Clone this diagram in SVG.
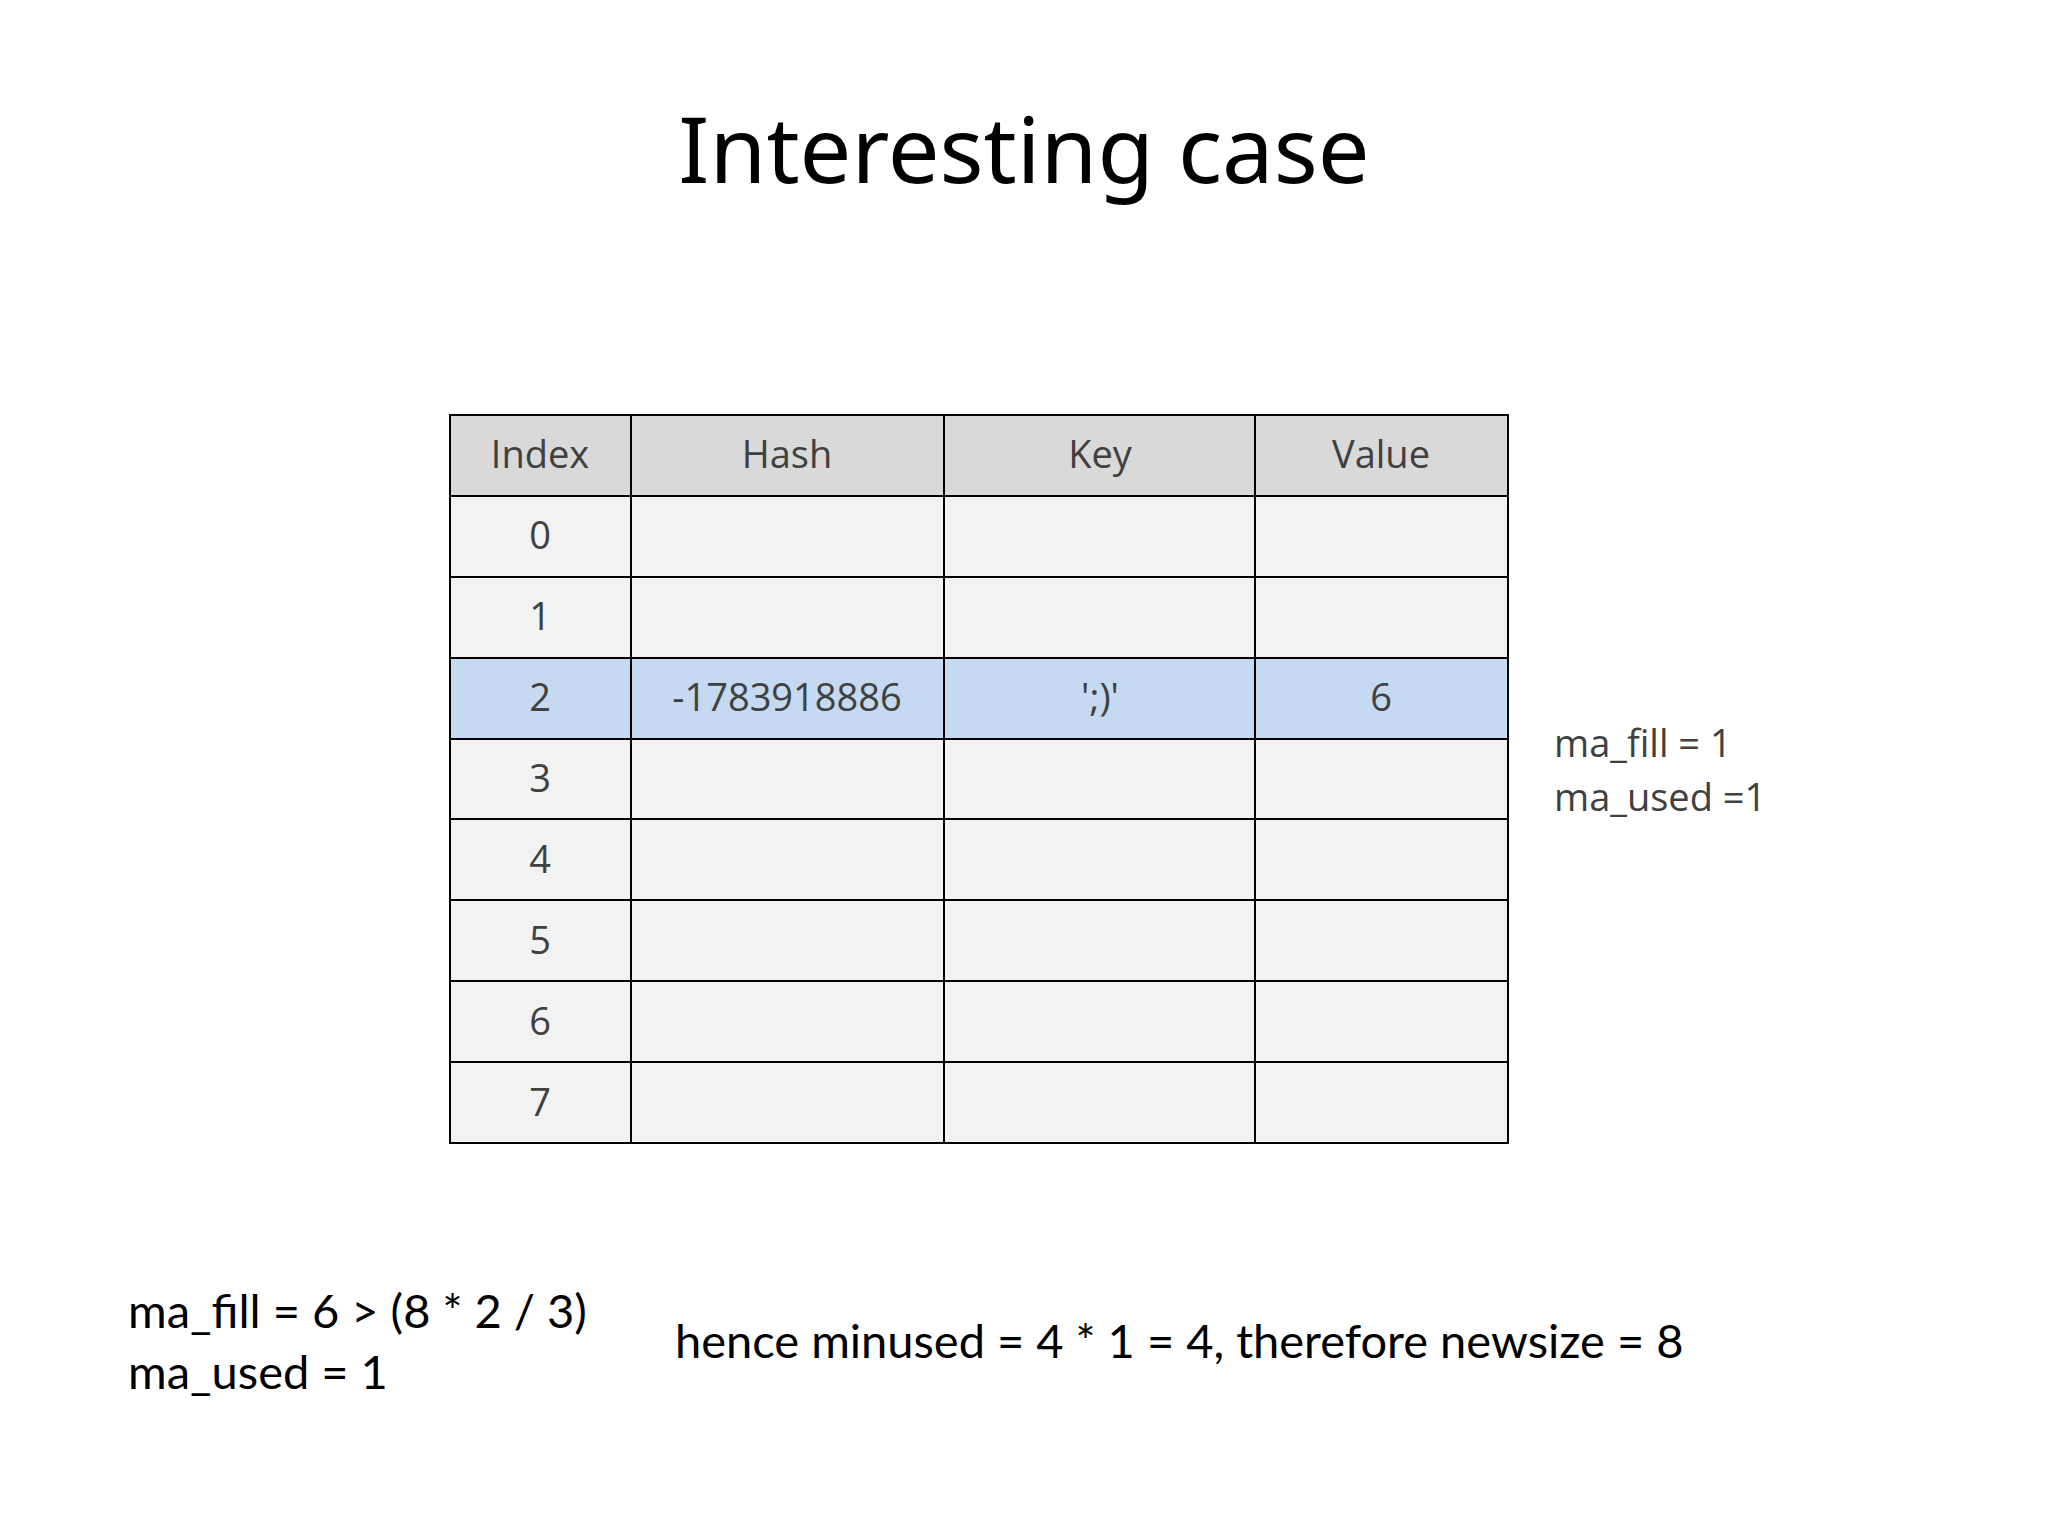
<svg xmlns="http://www.w3.org/2000/svg" width="2048" height="1536" viewBox="0 0 2048 1536">
<style>
.c{fill:#f2f2f2;stroke:#000;stroke-width:2}
.h{fill:#d9d9d9;stroke:#000;stroke-width:2}
.s{fill:#c5d9f1;stroke:#000;stroke-width:2}
.t{font-family:"Open Sans",sans-serif;font-size:38px;fill:#404040;text-anchor:middle}
.b{font-family:Lato,"Noto Sans",sans-serif;font-size:47px;fill:#000}
</style>
<rect width="2048" height="1536" fill="#fff"/>
<text x="1024" y="183" font-family="Noto Sans,sans-serif" font-size="92" text-anchor="middle">Interesting case</text>
<g id="table">
<rect class="h" x="450" y="415" width="181" height="81"/><rect class="h" x="631" y="415" width="313" height="81"/><rect class="h" x="944" y="415" width="311" height="81"/><rect class="h" x="1255" y="415" width="253" height="81"/>
<text class="t" x="540" y="468">Index</text><text class="t" x="787" y="468">Hash</text><text class="t" x="1100" y="468">Key</text><text class="t" x="1381" y="468">Value</text>
<g id="rows">
<rect class="c" x="450" y="496" width="181" height="81"/><rect class="c" x="631" y="496" width="313" height="81"/><rect class="c" x="944" y="496" width="311" height="81"/><rect class="c" x="1255" y="496" width="253" height="81"/>
<rect class="c" x="450" y="577" width="181" height="81"/><rect class="c" x="631" y="577" width="313" height="81"/><rect class="c" x="944" y="577" width="311" height="81"/><rect class="c" x="1255" y="577" width="253" height="81"/>
<rect class="s" x="450" y="658" width="181" height="81"/><rect class="s" x="631" y="658" width="313" height="81"/><rect class="s" x="944" y="658" width="311" height="81"/><rect class="s" x="1255" y="658" width="253" height="81"/>
<rect class="c" x="450" y="739" width="181" height="80"/><rect class="c" x="631" y="739" width="313" height="80"/><rect class="c" x="944" y="739" width="311" height="80"/><rect class="c" x="1255" y="739" width="253" height="80"/>
<rect class="c" x="450" y="819" width="181" height="81"/><rect class="c" x="631" y="819" width="313" height="81"/><rect class="c" x="944" y="819" width="311" height="81"/><rect class="c" x="1255" y="819" width="253" height="81"/>
<rect class="c" x="450" y="900" width="181" height="81"/><rect class="c" x="631" y="900" width="313" height="81"/><rect class="c" x="944" y="900" width="311" height="81"/><rect class="c" x="1255" y="900" width="253" height="81"/>
<rect class="c" x="450" y="981" width="181" height="81"/><rect class="c" x="631" y="981" width="313" height="81"/><rect class="c" x="944" y="981" width="311" height="81"/><rect class="c" x="1255" y="981" width="253" height="81"/>
<rect class="c" x="450" y="1062" width="181" height="81"/><rect class="c" x="631" y="1062" width="313" height="81"/><rect class="c" x="944" y="1062" width="311" height="81"/><rect class="c" x="1255" y="1062" width="253" height="81"/>
</g>
<text class="t" x="540" y="549">0</text><text class="t" x="540" y="630">1</text><text class="t" x="540" y="711">2</text><text class="t" x="540" y="792">3</text><text class="t" x="540" y="873">4</text><text class="t" x="540" y="954">5</text><text class="t" x="540" y="1035">6</text><text class="t" x="540" y="1116">7</text>
<text class="t" x="787" y="711">-1783918886</text><text class="t" x="1100" y="711">';)'</text><text class="t" x="1381" y="711">6</text>
</g>
<g id="notes">
<text class="t" x="1554" y="757" style="text-anchor:start">ma_fill = 1</text>
<text class="t" x="1554" y="811" style="text-anchor:start">ma_used =1</text>
<text class="b" x="128" y="1328">ma_fill = 6 &gt; (8 * 2 / 3)</text>
<text class="b" x="128" y="1389">ma_used = 1</text>
<text class="b" x="675" y="1358">hence minused = 4 * 1 = 4, therefore newsize = 8</text>
</g>
</svg>
